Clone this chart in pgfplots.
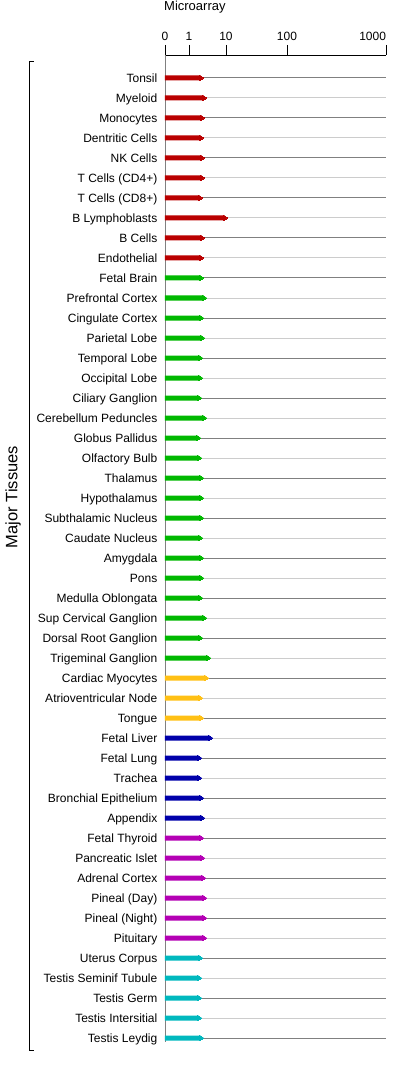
\documentclass[border=0pt]{standalone}
\usepackage{fontspec}
\setmainfont{Liberation Sans}
\usepackage{pgfplots}
\pgfplotsset{compat=1.18}
\usepackage{pgfplotstable}

\definecolor{cred}{RGB}{186,0,0}
\definecolor{cgreen}{RGB}{0,184,0}
\definecolor{cyellow}{RGB}{255,192,20}
\definecolor{cblue}{RGB}{0,0,170}
\definecolor{cmag}{RGB}{180,0,180}
\definecolor{ccyan}{RGB}{0,184,190}
\definecolor{gdark}{RGB}{128,128,128}
\definecolor{glight}{RGB}{204,204,204}

% x values are positions on the chart's scale (0 -> 0, 1 -> 24, 10 -> 61, 100 -> 122, 1000 -> 221)
\pgfplotstableread{
i v
0 39
1 42
2 40
3 39
4 40
5 40
6 38
7 63
8 40
9 39
}\redtab
\pgfplotstableread{
i v
10 39
11 42
12 39
13 40
14 38
15 38
16 37
17 42
18 36
19 37
20 39
21 39
22 39
23 38
24 39
25 39
26 38
27 42
28 38
29 46
}\greentab
\pgfplotstableread{
i v
30 44
31 38
32 39
}\yellowtab
\pgfplotstableread{
i v
33 48
34 37
35 37
36 39
37 40
}\bluetab
\pgfplotstableread{
i v
38 39
39 40
40 41
41 42
42 42
43 42
}\magtab
\pgfplotstableread{
i v
44 38
45 37
46 37
47 37
48 39
}\cyantab

\newcommand{\barplot}[2]{%
  \addplot[xbar, bar width=5bp, bar shift=0pt, color=#1, fill=#1, draw=none, forget plot]
    table[x expr=\thisrow{v}-3, y=i] {#2};
  \addplot[only marks, color=#1, mark=triangle*, mark size=3bp,
    mark options={rotate=-90, fill=#1, draw=#1, line width=0pt}, forget plot]
    table[x expr=\thisrow{v}-3, y=i] {#2};
}

\begin{document}
\begin{tikzpicture}
\begin{axis}[
  at={(0,0)}, anchor=south west,
  scale only axis,
  width=221bp, height=987bp,
  xmin=0, xmax=221,
  ymin=-1.15, ymax=48.2,
  y dir=reverse,
  enlargelimits=false,
  axis x line=top,
  axis y line=left,
  x axis line style={-, black, line width=0.8bp},
  y axis line style={-, gdark, line width=0.8bp},
  xtick={0,24,61,122,221},
  xticklabels={0,1,10,100,{\makebox[0pt][r]{1000}}},
  tick align=outside,
  x tick style={black, line width=0.8bp},
  xtick pos=top,
  major tick length=10bp,
  xticklabel style={font=\fontsize{12bp}{14bp}\selectfont, inner sep=0pt, anchor=south},
  xticklabel shift=4.5bp,
  ytick={0,...,48},
  y tick style={draw=none},
  yticklabel style={font=\fontsize{12bp}{14bp}\selectfont, inner sep=0pt, anchor=base east, yshift=-4.3bp},
  yticklabel shift=-2.5bp,
  yticklabels={Tonsil,Myeloid,Monocytes,Dentritic Cells,NK Cells,T Cells (CD4+),T Cells (CD8+),B Lymphoblasts,B Cells,Endothelial,Fetal Brain,Prefrontal Cortex,Cingulate Cortex,Parietal Lobe,Temporal Lobe,Occipital Lobe,Ciliary Ganglion,Cerebellum Peduncles,Globus Pallidus,Olfactory Bulb,Thalamus,Hypothalamus,Subthalamic Nucleus,Caudate Nucleus,Amygdala,Pons,Medulla Oblongata,Sup Cervical Ganglion,Dorsal Root Ganglion,Trigeminal Ganglion,Cardiac Myocytes,Atrioventricular Node,Tongue,Fetal Liver,Fetal Lung,Trachea,Bronchial Epithelium,Appendix,Fetal Thyroid,Pancreatic Islet,Adrenal Cortex,Pineal (Day),Pineal (Night),Pituitary,Uterus Corpus,Testis Seminif Tubule,Testis Germ,Testis Intersitial,Testis Leydig},
  /pgf/number format/assume math mode=true,
  clip=false,
]
\pgfplotsinvokeforeach{0,2,...,48}{
  \addplot[gdark, line width=1bp, mark=none, forget plot] coordinates {(0,#1) (221,#1)};
}
\pgfplotsinvokeforeach{1,3,...,47}{
  \addplot[glight, line width=1bp, mark=none, forget plot] coordinates {(0,#1) (221,#1)};
}
\barplot{cred}{\redtab}
\barplot{cgreen}{\greentab}
\barplot{cyellow}{\yellowtab}
\barplot{cblue}{\bluetab}
\barplot{cmag}{\magtab}
\barplot{ccyan}{\cyantab}
\end{axis}
% bracket and labels (pixel-based positions; origin at axis lower-left)
\draw[black, line width=1bp] (-131bp,980bp) -- (-135bp,980bp) -- (-135bp,-8bp) -- (-131bp,-8bp);
\node[rotate=90, inner sep=0pt, font=\fontsize{16.5bp}{19bp}\selectfont] at (-152bp,545bp) {Major Tissues};
\node[anchor=west, inner sep=0pt, font=\fontsize{13bp}{15bp}\selectfont] at (-1bp,1035bp) {Microarray};
\pgfresetboundingbox
\path[use as bounding box] (-165bp,-38bp) rectangle (228bp,1042bp);
\end{tikzpicture}
\end{document}
